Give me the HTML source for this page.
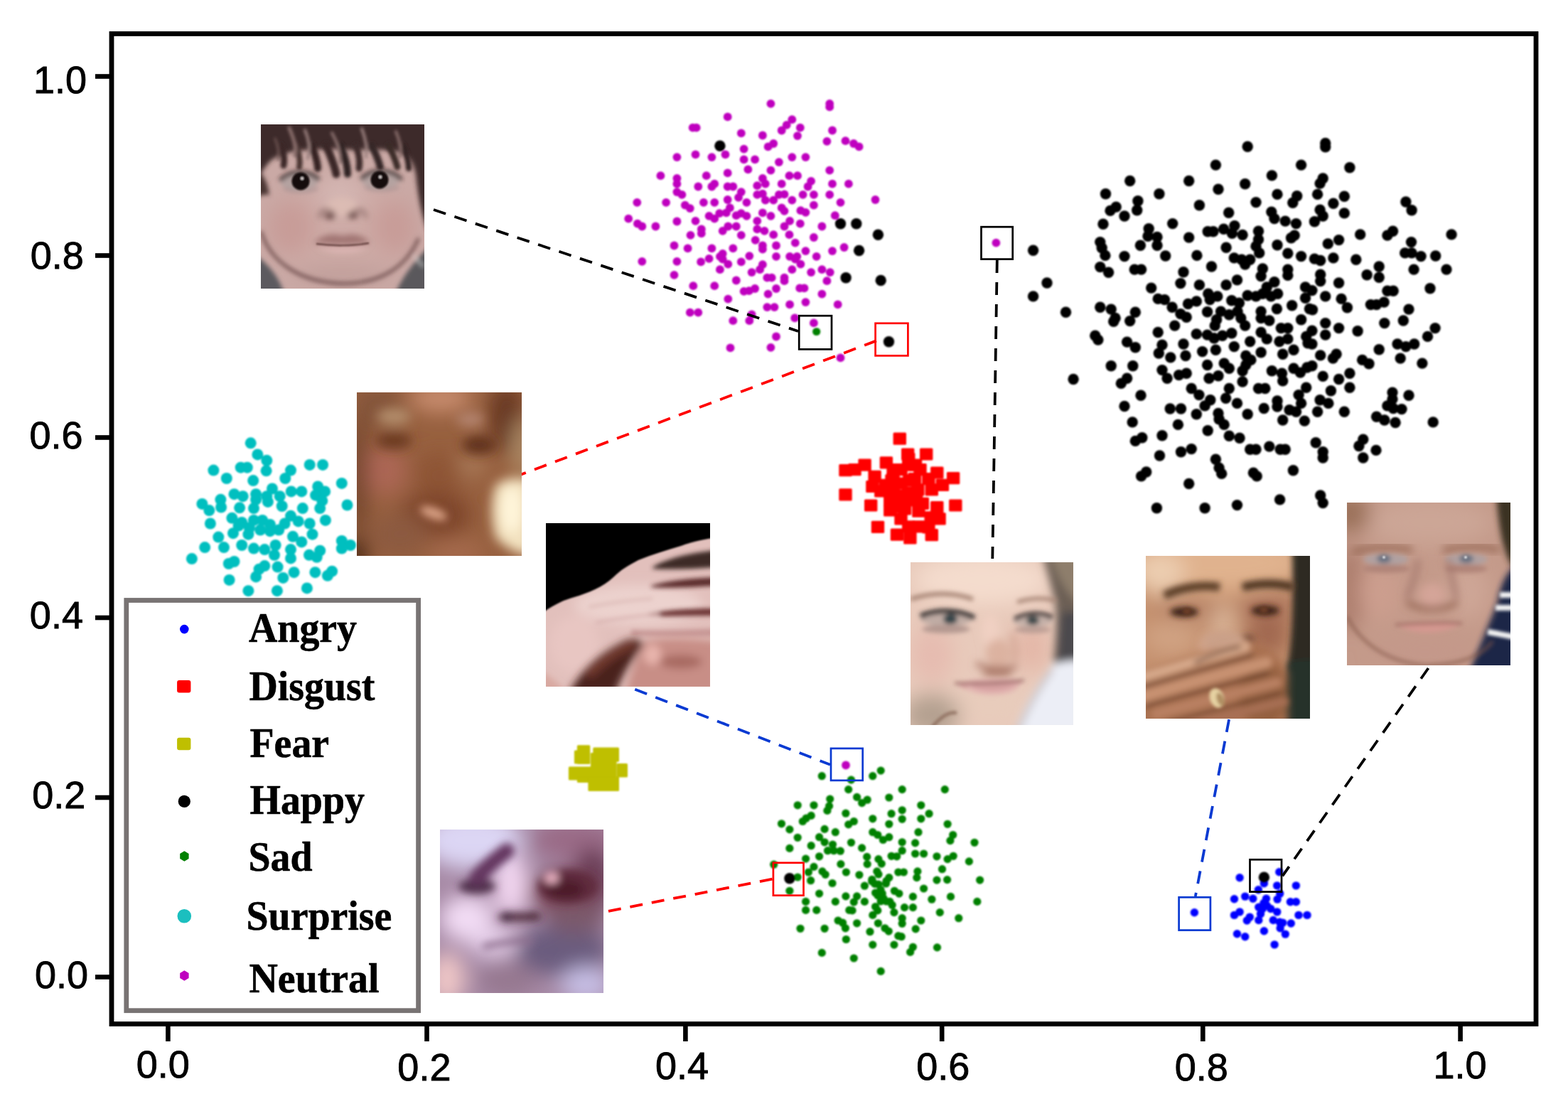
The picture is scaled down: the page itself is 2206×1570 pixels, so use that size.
<!DOCTYPE html>
<html><head><meta charset="utf-8"><title>t-SNE facial expression clusters</title>
<style>
html,body{margin:0;padding:0;background:#fff;width:2206px;height:1570px;overflow:hidden}
svg{display:block}
.tk{font-family:"Liberation Sans",Arial,sans-serif;font-size:54px;fill:#000;stroke:#000;stroke-width:0.9px}
.lg{font-family:"Liberation Serif","Times New Roman",serif;font-weight:bold;font-size:59px;fill:#000;stroke:#000;stroke-width:0.6px}
</style></head><body>
<svg width="2206" height="1570" viewBox="0 0 2206 1570">
<defs>
<filter id="soft" x="-5%" y="-5%" width="110%" height="110%"><feGaussianBlur stdDeviation="1.0"/></filter>
<filter id="b1" x="-60%" y="-60%" width="220%" height="220%"><feGaussianBlur stdDeviation="1"/></filter><filter id="b2" x="-60%" y="-60%" width="220%" height="220%"><feGaussianBlur stdDeviation="2"/></filter><filter id="b3" x="-60%" y="-60%" width="220%" height="220%"><feGaussianBlur stdDeviation="3"/></filter><filter id="b4" x="-60%" y="-60%" width="220%" height="220%"><feGaussianBlur stdDeviation="4"/></filter><filter id="b6" x="-60%" y="-60%" width="220%" height="220%"><feGaussianBlur stdDeviation="6"/></filter><filter id="b8" x="-60%" y="-60%" width="220%" height="220%"><feGaussianBlur stdDeviation="8"/></filter><filter id="b14" x="-60%" y="-60%" width="220%" height="220%"><feGaussianBlur stdDeviation="14"/></filter>
<clipPath id="c1"><rect width="230" height="231"/></clipPath>
<clipPath id="c2"><rect width="232" height="230"/></clipPath>
<clipPath id="c3"><rect width="231" height="230"/></clipPath>
<clipPath id="c4"><rect width="229" height="229"/></clipPath>
<clipPath id="c5"><rect width="231" height="229"/></clipPath>
<clipPath id="c6"><rect width="230" height="229"/></clipPath>
<clipPath id="c7"><rect width="230" height="230"/></clipPath>
</defs>
<!-- AXES -->
<g id="axes">
<rect x="157" y="47.5" width="2004" height="1393" fill="none" stroke="#000" stroke-width="6.8"/>
<g stroke="#000" stroke-width="6.6">
<line x1="134" y1="107.5" x2="157" y2="107.5"/>
<line x1="134" y1="359.5" x2="157" y2="359.5"/>
<line x1="134" y1="615.5" x2="157" y2="615.5"/>
<line x1="134" y1="869" x2="157" y2="869"/>
<line x1="134" y1="1122" x2="157" y2="1122"/>
<line x1="134" y1="1374.5" x2="157" y2="1374.5"/>
<line x1="236.4" y1="1440" x2="236.4" y2="1465"/>
<line x1="600.5" y1="1440" x2="600.5" y2="1465"/>
<line x1="964.4" y1="1440" x2="964.4" y2="1465"/>
<line x1="1325.2" y1="1440" x2="1325.2" y2="1465"/>
<line x1="1692.3" y1="1440" x2="1692.3" y2="1465"/>
<line x1="2054.6" y1="1440" x2="2054.6" y2="1465"/>
</g>
<g class="tk" text-anchor="middle">
<text x="84.5" y="130.5">1.0</text>
<text x="80.3" y="377.5">0.8</text>
<text x="79" y="631">0.6</text>
<text x="79.4" y="884">0.4</text>
<text x="82.8" y="1136.5">0.2</text>
<text x="86.6" y="1389.5">0.0</text>
<text x="229.3" y="1515.5">0.0</text>
<text x="596.9" y="1519.5">0.2</text>
<text x="959.5" y="1517.5">0.4</text>
<text x="1326.8" y="1518.5">0.6</text>
<text x="1690.3" y="1519.5">0.8</text>
<text x="2054" y="1517">1.0</text>
</g>
</g>
<!-- CLUSTERS -->
<g id="clusters" filter="url(#soft)">
<g fill="#00bfbf"><circle cx="352.7" cy="623.3" r="8.0"/><circle cx="362.4" cy="639.4" r="8.0"/><circle cx="375.3" cy="647.8" r="8.0"/><circle cx="374.6" cy="662.3" r="8.0"/><circle cx="300.4" cy="661.6" r="8.0"/><circle cx="318.8" cy="673.0" r="8.0"/><circle cx="338.7" cy="657.7" r="8.0"/><circle cx="347.8" cy="657.7" r="8.0"/><circle cx="356.2" cy="676.1" r="8.0"/><circle cx="409.0" cy="661.6" r="8.0"/><circle cx="401.3" cy="673.0" r="8.0"/><circle cx="435.7" cy="653.9" r="8.0"/><circle cx="454.1" cy="653.9" r="8.0"/><circle cx="480.8" cy="679.9" r="8.0"/><circle cx="447.2" cy="684.5" r="8.0"/><circle cx="457.1" cy="691.4" r="8.0"/><circle cx="444.1" cy="696.7" r="8.0"/><circle cx="453.3" cy="704.4" r="8.0"/><circle cx="450.2" cy="715.1" r="8.0"/><circle cx="488.5" cy="710.5" r="8.0"/><circle cx="457.9" cy="731.9" r="8.0"/><circle cx="383.0" cy="687.5" r="8.0"/><circle cx="409.7" cy="691.4" r="8.0"/><circle cx="424.3" cy="691.4" r="8.0"/><circle cx="329.5" cy="695.2" r="8.0"/><circle cx="341.7" cy="698.2" r="8.0"/><circle cx="360.1" cy="695.2" r="8.0"/><circle cx="375.3" cy="698.2" r="8.0"/><circle cx="393.7" cy="698.2" r="8.0"/><circle cx="376.9" cy="705.9" r="8.0"/><circle cx="396.7" cy="712.0" r="8.0"/><circle cx="310.4" cy="702.8" r="8.0"/><circle cx="311.1" cy="713.5" r="8.0"/><circle cx="284.4" cy="708.9" r="8.0"/><circle cx="294.3" cy="718.1" r="8.0"/><circle cx="337.1" cy="714.3" r="8.0"/><circle cx="357.0" cy="715.1" r="8.0"/><circle cx="425.8" cy="715.1" r="8.0"/><circle cx="409.0" cy="725.8" r="8.0"/><circle cx="400.6" cy="736.5" r="8.0"/><circle cx="419.7" cy="733.4" r="8.0"/><circle cx="435.7" cy="736.5" r="8.0"/><circle cx="326.4" cy="728.8" r="8.0"/><circle cx="340.2" cy="734.9" r="8.0"/><circle cx="357.0" cy="731.9" r="8.0"/><circle cx="369.2" cy="731.9" r="8.0"/><circle cx="379.9" cy="738.0" r="8.0"/><circle cx="295.9" cy="736.5" r="8.0"/><circle cx="328.0" cy="750.2" r="8.0"/><circle cx="349.4" cy="751.7" r="8.0"/><circle cx="366.2" cy="745.6" r="8.0"/><circle cx="379.9" cy="747.2" r="8.0"/><circle cx="392.2" cy="745.6" r="8.0"/><circle cx="412.0" cy="754.8" r="8.0"/><circle cx="439.5" cy="751.7" r="8.0"/><circle cx="307.3" cy="755.6" r="8.0"/><circle cx="340.2" cy="767.0" r="8.0"/><circle cx="357.0" cy="771.6" r="8.0"/><circle cx="372.3" cy="773.1" r="8.0"/><circle cx="387.6" cy="767.0" r="8.0"/><circle cx="424.3" cy="762.4" r="8.0"/><circle cx="480.8" cy="760.9" r="8.0"/><circle cx="493.0" cy="767.0" r="8.0"/><circle cx="480.8" cy="771.6" r="8.0"/><circle cx="288.2" cy="770.1" r="8.0"/><circle cx="315.0" cy="770.1" r="8.0"/><circle cx="386.0" cy="780.8" r="8.0"/><circle cx="409.0" cy="773.1" r="8.0"/><circle cx="409.0" cy="785.4" r="8.0"/><circle cx="435.0" cy="780.8" r="8.0"/><circle cx="450.2" cy="774.7" r="8.0"/><circle cx="445.7" cy="783.8" r="8.0"/><circle cx="269.9" cy="786.1" r="8.0"/><circle cx="321.8" cy="793.0" r="8.0"/><circle cx="329.5" cy="790.0" r="8.0"/><circle cx="364.6" cy="800.7" r="8.0"/><circle cx="372.3" cy="796.1" r="8.0"/><circle cx="390.6" cy="797.6" r="8.0"/><circle cx="360.1" cy="811.4" r="8.0"/><circle cx="413.6" cy="805.2" r="8.0"/><circle cx="398.3" cy="812.9" r="8.0"/><circle cx="443.4" cy="805.2" r="8.0"/><circle cx="460.9" cy="809.8" r="8.0"/><circle cx="467.1" cy="803.7" r="8.0"/><circle cx="322.6" cy="815.9" r="8.0"/><circle cx="349.4" cy="831.2" r="8.0"/><circle cx="389.9" cy="831.2" r="8.0"/><circle cx="431.9" cy="827.4" r="8.0"/><circle cx="360.1" cy="702.8" r="8.0"/><circle cx="350.9" cy="742.6" r="8.0"/><circle cx="335.6" cy="739.5" r="8.0"/></g>
<g fill="#ff0000"><rect x="1256.6" y="608.5" width="18.4" height="17.2" rx="1.5"/><rect x="1268.0" y="630.4" width="18.4" height="17.2" rx="1.5"/><rect x="1294.0" y="630.4" width="18.4" height="17.2" rx="1.5"/><rect x="1237.7" y="642.3" width="18.4" height="17.2" rx="1.5"/><rect x="1207.4" y="645.5" width="18.4" height="17.2" rx="1.5"/><rect x="1180.3" y="653.1" width="18.4" height="17.2" rx="1.5"/><rect x="1193.3" y="652.0" width="18.4" height="17.2" rx="1.5"/><rect x="1309.1" y="656.4" width="18.4" height="17.2" rx="1.5"/><rect x="1331.9" y="664.0" width="18.4" height="17.2" rx="1.5"/><rect x="1278.8" y="645.5" width="18.4" height="17.2" rx="1.5"/><rect x="1221.4" y="661.8" width="18.4" height="17.2" rx="1.5"/><rect x="1247.4" y="652.0" width="18.4" height="17.2" rx="1.5"/><rect x="1258.3" y="652.0" width="18.4" height="17.2" rx="1.5"/><rect x="1297.2" y="665.0" width="18.4" height="17.2" rx="1.5"/><rect x="1218.2" y="675.9" width="18.4" height="17.2" rx="1.5"/><rect x="1236.6" y="673.7" width="18.4" height="17.2" rx="1.5"/><rect x="1258.3" y="671.5" width="18.4" height="17.2" rx="1.5"/><rect x="1277.7" y="665.0" width="18.4" height="17.2" rx="1.5"/><rect x="1282.1" y="680.2" width="18.4" height="17.2" rx="1.5"/><rect x="1301.6" y="680.2" width="18.4" height="17.2" rx="1.5"/><rect x="1316.7" y="673.7" width="18.4" height="17.2" rx="1.5"/><rect x="1180.3" y="687.2" width="18.4" height="17.2" rx="1.5"/><rect x="1216.0" y="702.4" width="18.4" height="17.2" rx="1.5"/><rect x="1243.1" y="695.4" width="18.4" height="17.2" rx="1.5"/><rect x="1258.3" y="688.9" width="18.4" height="17.2" rx="1.5"/><rect x="1279.9" y="694.3" width="18.4" height="17.2" rx="1.5"/><rect x="1243.1" y="709.4" width="18.4" height="17.2" rx="1.5"/><rect x="1263.7" y="707.3" width="18.4" height="17.2" rx="1.5"/><rect x="1309.1" y="705.1" width="18.4" height="17.2" rx="1.5"/><rect x="1335.1" y="702.4" width="18.4" height="17.2" rx="1.5"/><rect x="1258.3" y="721.3" width="18.4" height="17.2" rx="1.5"/><rect x="1283.2" y="710.5" width="18.4" height="17.2" rx="1.5"/><rect x="1300.5" y="719.2" width="18.4" height="17.2" rx="1.5"/><rect x="1312.4" y="721.3" width="18.4" height="17.2" rx="1.5"/><rect x="1283.2" y="732.2" width="18.4" height="17.2" rx="1.5"/><rect x="1225.8" y="732.7" width="18.4" height="17.2" rx="1.5"/><rect x="1252.8" y="743.5" width="18.4" height="17.2" rx="1.5"/><rect x="1271.2" y="748.4" width="18.4" height="17.2" rx="1.5"/><rect x="1301.6" y="744.1" width="18.4" height="17.2" rx="1.5"/><rect x="1297.2" y="733.3" width="18.4" height="17.2" rx="1.5"/><rect x="1269.1" y="732.2" width="18.4" height="17.2" rx="1.5"/><rect x="1230.1" y="682.4" width="18.4" height="17.2" rx="1.5"/><rect x="1247.4" y="683.4" width="18.4" height="17.2" rx="1.5"/><rect x="1269.1" y="645.5" width="18.4" height="17.2" rx="1.5"/><rect x="1269.1" y="636.9" width="18.4" height="17.2" rx="1.5"/><rect x="1247.4" y="665.0" width="18.4" height="17.2" rx="1.5"/><rect x="1285.3" y="652.0" width="18.4" height="17.2" rx="1.5"/><rect x="1270.2" y="667.2" width="18.4" height="17.2" rx="1.5"/><rect x="1269.1" y="684.5" width="18.4" height="17.2" rx="1.5"/><rect x="1260.4" y="704.0" width="18.4" height="17.2" rx="1.5"/><rect x="1269.1" y="695.4" width="18.4" height="17.2" rx="1.5"/><rect x="1245.3" y="667.2" width="18.4" height="17.2" rx="1.5"/><rect x="1288.6" y="699.7" width="18.4" height="17.2" rx="1.5"/></g>
<g fill="#bfbf00"><rect x="811.9" y="1048.2" width="18.4" height="26.9" rx="1.5"/><rect x="807.9" y="1055.6" width="17.2" height="19.0" rx="1.5"/><rect x="834.3" y="1051.6" width="36.7" height="20.1" rx="1.5"/><rect x="830.9" y="1059.1" width="36.7" height="36.1" rx="1.5"/><rect x="867.6" y="1074.0" width="15.4" height="19.5" rx="1.5"/><rect x="799.9" y="1078.6" width="36.7" height="18.9" rx="1.5"/><rect x="811.9" y="1092.3" width="19.0" height="8.7" rx="1.5"/><rect x="827.4" y="1092.3" width="43.6" height="20.7" rx="1.5"/></g>
<g fill="#bf00bf"><circle cx="1023.7" cy="164.4" r="5.9"/><circle cx="974.6" cy="179.7" r="5.9"/><circle cx="979.7" cy="179.7" r="5.9"/><circle cx="1042.8" cy="187.3" r="5.9"/><circle cx="1046.6" cy="209.6" r="5.9"/><circle cx="978.5" cy="217.3" r="5.9"/><circle cx="952.4" cy="221.1" r="5.9"/><circle cx="1001.4" cy="221.1" r="5.9"/><circle cx="1020.5" cy="217.3" r="5.9"/><circle cx="1046.6" cy="224.3" r="5.9"/><circle cx="1052.4" cy="238.3" r="5.9"/><circle cx="929.4" cy="247.2" r="5.9"/><circle cx="952.4" cy="251.0" r="5.9"/><circle cx="993.8" cy="247.2" r="5.9"/><circle cx="1023.7" cy="243.4" r="5.9"/><circle cx="952.4" cy="258.7" r="5.9"/><circle cx="982.3" cy="262.5" r="5.9"/><circle cx="1001.4" cy="262.5" r="5.9"/><circle cx="1005.2" cy="258.7" r="5.9"/><circle cx="1023.7" cy="262.5" r="5.9"/><circle cx="1031.3" cy="262.5" r="5.9"/><circle cx="952.4" cy="270.1" r="5.9"/><circle cx="959.4" cy="273.9" r="5.9"/><circle cx="1042.8" cy="270.1" r="5.9"/><circle cx="1039.0" cy="277.8" r="5.9"/><circle cx="896.3" cy="284.8" r="5.9"/><circle cx="937.1" cy="284.8" r="5.9"/><circle cx="989.9" cy="284.8" r="5.9"/><circle cx="1005.2" cy="284.8" r="5.9"/><circle cx="1023.7" cy="281.0" r="5.9"/><circle cx="1050.4" cy="284.8" r="5.9"/><circle cx="963.8" cy="288.6" r="5.9"/><circle cx="970.8" cy="293.1" r="5.9"/><circle cx="1026.9" cy="292.4" r="5.9"/><circle cx="1012.2" cy="300.1" r="5.9"/><circle cx="1021.8" cy="299.4" r="5.9"/><circle cx="997.6" cy="303.9" r="5.9"/><circle cx="1005.2" cy="307.7" r="5.9"/><circle cx="1035.8" cy="303.2" r="5.9"/><circle cx="1042.8" cy="300.1" r="5.9"/><circle cx="1050.4" cy="303.9" r="5.9"/><circle cx="884.2" cy="307.7" r="5.9"/><circle cx="896.9" cy="314.7" r="5.9"/><circle cx="903.3" cy="318.5" r="5.9"/><circle cx="922.4" cy="318.5" r="5.9"/><circle cx="952.4" cy="311.5" r="5.9"/><circle cx="978.5" cy="310.9" r="5.9"/><circle cx="986.8" cy="322.4" r="5.9"/><circle cx="1024.3" cy="318.5" r="5.9"/><circle cx="1035.8" cy="318.5" r="5.9"/><circle cx="1016.7" cy="324.9" r="5.9"/><circle cx="1084.4" cy="145.9" r="5.9"/><circle cx="1167.2" cy="145.9" r="5.9"/><circle cx="1167.2" cy="150.4" r="5.9"/><circle cx="1114.3" cy="168.2" r="5.9"/><circle cx="1106.7" cy="175.9" r="5.9"/><circle cx="1099.7" cy="183.5" r="5.9"/><circle cx="1125.8" cy="179.7" r="5.9"/><circle cx="1122.0" cy="191.1" r="5.9"/><circle cx="1072.9" cy="190.5" r="5.9"/><circle cx="1088.2" cy="202.0" r="5.9"/><circle cx="1080.6" cy="206.4" r="5.9"/><circle cx="1171.0" cy="183.5" r="5.9"/><circle cx="1163.4" cy="198.8" r="5.9"/><circle cx="1189.5" cy="198.2" r="5.9"/><circle cx="1201.0" cy="202.0" r="5.9"/><circle cx="1208.6" cy="206.4" r="5.9"/><circle cx="1114.3" cy="221.1" r="5.9"/><circle cx="1133.4" cy="221.1" r="5.9"/><circle cx="1062.1" cy="224.3" r="5.9"/><circle cx="1095.9" cy="228.1" r="5.9"/><circle cx="1084.4" cy="239.6" r="5.9"/><circle cx="1167.2" cy="239.6" r="5.9"/><circle cx="1110.5" cy="247.2" r="5.9"/><circle cx="1122.0" cy="247.2" r="5.9"/><circle cx="1072.9" cy="251.0" r="5.9"/><circle cx="1065.3" cy="261.2" r="5.9"/><circle cx="1076.8" cy="258.7" r="5.9"/><circle cx="1099.7" cy="258.7" r="5.9"/><circle cx="1141.1" cy="254.8" r="5.9"/><circle cx="1136.6" cy="262.5" r="5.9"/><circle cx="1171.0" cy="258.7" r="5.9"/><circle cx="1193.9" cy="258.7" r="5.9"/><circle cx="1065.3" cy="273.9" r="5.9"/><circle cx="1072.9" cy="272.7" r="5.9"/><circle cx="1076.8" cy="281.6" r="5.9"/><circle cx="1088.2" cy="281.6" r="5.9"/><circle cx="1095.9" cy="273.9" r="5.9"/><circle cx="1103.5" cy="273.3" r="5.9"/><circle cx="1114.3" cy="281.6" r="5.9"/><circle cx="1129.6" cy="273.9" r="5.9"/><circle cx="1144.9" cy="273.9" r="5.9"/><circle cx="1167.2" cy="273.9" r="5.9"/><circle cx="1182.5" cy="284.8" r="5.9"/><circle cx="1231.5" cy="281.0" r="5.9"/><circle cx="1144.9" cy="288.6" r="5.9"/><circle cx="1099.7" cy="292.4" r="5.9"/><circle cx="1103.5" cy="296.9" r="5.9"/><circle cx="1126.4" cy="296.2" r="5.9"/><circle cx="1133.4" cy="298.8" r="5.9"/><circle cx="1072.9" cy="299.4" r="5.9"/><circle cx="1084.4" cy="303.9" r="5.9"/><circle cx="1174.8" cy="303.2" r="5.9"/><circle cx="1065.3" cy="310.9" r="5.9"/><circle cx="1111.1" cy="310.9" r="5.9"/><circle cx="1103.5" cy="318.5" r="5.9"/><circle cx="1125.8" cy="314.7" r="5.9"/><circle cx="1156.4" cy="318.5" r="5.9"/><circle cx="1065.3" cy="322.4" r="5.9"/><circle cx="1075.5" cy="324.9" r="5.9"/><circle cx="971.5" cy="330.8" r="5.9"/><circle cx="986.8" cy="328.3" r="5.9"/><circle cx="1042.8" cy="330.8" r="5.9"/><circle cx="948.5" cy="345.5" r="5.9"/><circle cx="967.6" cy="349.3" r="5.9"/><circle cx="1001.4" cy="349.3" r="5.9"/><circle cx="1031.3" cy="349.3" r="5.9"/><circle cx="1016.7" cy="356.9" r="5.9"/><circle cx="1012.9" cy="360.8" r="5.9"/><circle cx="1016.7" cy="364.6" r="5.9"/><circle cx="997.6" cy="363.9" r="5.9"/><circle cx="986.1" cy="368.4" r="5.9"/><circle cx="1024.3" cy="371.6" r="5.9"/><circle cx="1042.8" cy="368.4" r="5.9"/><circle cx="1054.3" cy="360.1" r="5.9"/><circle cx="1012.9" cy="379.2" r="5.9"/><circle cx="903.3" cy="367.8" r="5.9"/><circle cx="952.4" cy="367.8" r="5.9"/><circle cx="948.5" cy="386.9" r="5.9"/><circle cx="1035.8" cy="394.5" r="5.9"/><circle cx="975.3" cy="402.2" r="5.9"/><circle cx="1005.2" cy="402.2" r="5.9"/><circle cx="1046.6" cy="409.8" r="5.9"/><circle cx="1024.3" cy="420.6" r="5.9"/><circle cx="970.8" cy="439.7" r="5.9"/><circle cx="982.3" cy="439.7" r="5.9"/><circle cx="1031.3" cy="451.2" r="5.9"/><circle cx="1054.3" cy="451.2" r="5.9"/><circle cx="1027.5" cy="489.4" r="5.9"/><circle cx="1088.2" cy="330.2" r="5.9"/><circle cx="1110.5" cy="330.2" r="5.9"/><circle cx="1144.9" cy="334.0" r="5.9"/><circle cx="1062.7" cy="337.8" r="5.9"/><circle cx="1072.9" cy="345.5" r="5.9"/><circle cx="1072.9" cy="350.6" r="5.9"/><circle cx="1092.0" cy="345.5" r="5.9"/><circle cx="1118.8" cy="341.7" r="5.9"/><circle cx="1133.4" cy="353.1" r="5.9"/><circle cx="1171.0" cy="353.1" r="5.9"/><circle cx="1092.0" cy="360.8" r="5.9"/><circle cx="1111.1" cy="360.8" r="5.9"/><circle cx="1121.3" cy="360.8" r="5.9"/><circle cx="1118.8" cy="364.6" r="5.9"/><circle cx="1126.4" cy="371.6" r="5.9"/><circle cx="1148.7" cy="360.8" r="5.9"/><circle cx="1072.9" cy="372.2" r="5.9"/><circle cx="1069.1" cy="379.2" r="5.9"/><circle cx="1057.6" cy="383.1" r="5.9"/><circle cx="1114.3" cy="379.2" r="5.9"/><circle cx="1141.1" cy="383.1" r="5.9"/><circle cx="1156.4" cy="379.2" r="5.9"/><circle cx="1167.8" cy="383.1" r="5.9"/><circle cx="1163.4" cy="395.2" r="5.9"/><circle cx="1079.3" cy="390.7" r="5.9"/><circle cx="1085.7" cy="390.7" r="5.9"/><circle cx="1103.5" cy="390.7" r="5.9"/><circle cx="1103.5" cy="395.2" r="5.9"/><circle cx="1062.1" cy="406.0" r="5.9"/><circle cx="1053.8" cy="409.2" r="5.9"/><circle cx="1080.6" cy="413.6" r="5.9"/><circle cx="1092.0" cy="406.0" r="5.9"/><circle cx="1125.2" cy="405.4" r="5.9"/><circle cx="1131.5" cy="405.4" r="5.9"/><circle cx="1156.4" cy="413.6" r="5.9"/><circle cx="1133.4" cy="425.1" r="5.9"/><circle cx="1111.1" cy="428.3" r="5.9"/><circle cx="1079.3" cy="432.1" r="5.9"/><circle cx="1089.5" cy="432.1" r="5.9"/><circle cx="1178.7" cy="428.3" r="5.9"/><circle cx="1057.6" cy="442.3" r="5.9"/><circle cx="1118.2" cy="447.4" r="5.9"/><circle cx="1144.9" cy="454.4" r="5.9"/><circle cx="1092.0" cy="473.5" r="5.9"/><circle cx="1084.4" cy="488.8" r="5.9"/><circle cx="1182.5" cy="503.4" r="5.9"/><circle cx="1187.6" cy="348.0" r="5.9"/><circle cx="1401.4" cy="341.7" r="5.9"/><circle cx="1190.0" cy="1076.5" r="5.9"/></g>
<g fill="#008000"><circle cx="1156.3" cy="1091.7" r="5.6"/><circle cx="1227.8" cy="1091.7" r="5.6"/><circle cx="1239.2" cy="1084.1" r="5.6"/><circle cx="1197.5" cy="1097.1" r="5.6"/><circle cx="1193.7" cy="1110.6" r="5.6"/><circle cx="1205.6" cy="1121.4" r="5.6"/><circle cx="1212.6" cy="1129.6" r="5.6"/><circle cx="1220.2" cy="1125.2" r="5.6"/><circle cx="1167.7" cy="1124.1" r="5.6"/><circle cx="1166.6" cy="1133.9" r="5.6"/><circle cx="1163.9" cy="1140.4" r="5.6"/><circle cx="1122.2" cy="1132.8" r="5.6"/><circle cx="1145.0" cy="1132.8" r="5.6"/><circle cx="1141.2" cy="1147.4" r="5.6"/><circle cx="1134.1" cy="1151.2" r="5.6"/><circle cx="1129.3" cy="1155.5" r="5.6"/><circle cx="1189.9" cy="1144.2" r="5.6"/><circle cx="1227.8" cy="1151.8" r="5.6"/><circle cx="1201.3" cy="1155.5" r="5.6"/><circle cx="1193.7" cy="1159.9" r="5.6"/><circle cx="1099.5" cy="1158.8" r="5.6"/><circle cx="1110.9" cy="1166.9" r="5.6"/><circle cx="1122.2" cy="1178.3" r="5.6"/><circle cx="1160.1" cy="1166.4" r="5.6"/><circle cx="1175.3" cy="1170.7" r="5.6"/><circle cx="1152.6" cy="1177.7" r="5.6"/><circle cx="1160.1" cy="1184.8" r="5.6"/><circle cx="1171.5" cy="1188.0" r="5.6"/><circle cx="1164.5" cy="1196.7" r="5.6"/><circle cx="1173.1" cy="1196.7" r="5.6"/><circle cx="1182.3" cy="1197.2" r="5.6"/><circle cx="1197.5" cy="1185.3" r="5.6"/><circle cx="1212.6" cy="1192.9" r="5.6"/><circle cx="1227.8" cy="1170.7" r="5.6"/><circle cx="1234.8" cy="1174.5" r="5.6"/><circle cx="1242.4" cy="1181.5" r="5.6"/><circle cx="1110.9" cy="1193.4" r="5.6"/><circle cx="1141.2" cy="1189.7" r="5.6"/><circle cx="1152.6" cy="1204.8" r="5.6"/><circle cx="1133.6" cy="1208.1" r="5.6"/><circle cx="1088.7" cy="1216.2" r="5.6"/><circle cx="1219.7" cy="1205.4" r="5.6"/><circle cx="1220.2" cy="1215.6" r="5.6"/><circle cx="1235.9" cy="1208.6" r="5.6"/><circle cx="1240.3" cy="1215.1" r="5.6"/><circle cx="1182.9" cy="1215.6" r="5.6"/><circle cx="1145.0" cy="1219.4" r="5.6"/><circle cx="1137.4" cy="1227.0" r="5.6"/><circle cx="1156.9" cy="1225.9" r="5.6"/><circle cx="1161.2" cy="1230.3" r="5.6"/><circle cx="1190.4" cy="1227.0" r="5.6"/><circle cx="1208.9" cy="1230.8" r="5.6"/><circle cx="1233.8" cy="1225.9" r="5.6"/><circle cx="1122.2" cy="1234.0" r="5.6"/><circle cx="1269.2" cy="1110.6" r="5.6"/><circle cx="1329.3" cy="1110.6" r="5.6"/><circle cx="1250.8" cy="1122.0" r="5.6"/><circle cx="1295.8" cy="1132.8" r="5.6"/><circle cx="1269.2" cy="1139.8" r="5.6"/><circle cx="1254.1" cy="1144.7" r="5.6"/><circle cx="1269.2" cy="1152.3" r="5.6"/><circle cx="1307.1" cy="1144.7" r="5.6"/><circle cx="1295.8" cy="1151.8" r="5.6"/><circle cx="1250.8" cy="1159.3" r="5.6"/><circle cx="1333.1" cy="1159.3" r="5.6"/><circle cx="1292.0" cy="1170.7" r="5.6"/><circle cx="1340.7" cy="1174.5" r="5.6"/><circle cx="1336.9" cy="1182.6" r="5.6"/><circle cx="1371.0" cy="1185.3" r="5.6"/><circle cx="1250.8" cy="1177.7" r="5.6"/><circle cx="1269.2" cy="1184.8" r="5.6"/><circle cx="1287.6" cy="1185.9" r="5.6"/><circle cx="1269.2" cy="1196.7" r="5.6"/><circle cx="1254.1" cy="1204.3" r="5.6"/><circle cx="1261.7" cy="1204.8" r="5.6"/><circle cx="1287.6" cy="1201.0" r="5.6"/><circle cx="1299.6" cy="1201.0" r="5.6"/><circle cx="1318.0" cy="1204.8" r="5.6"/><circle cx="1333.1" cy="1208.6" r="5.6"/><circle cx="1341.2" cy="1204.3" r="5.6"/><circle cx="1363.4" cy="1211.9" r="5.6"/><circle cx="1325.5" cy="1222.7" r="5.6"/><circle cx="1263.8" cy="1227.0" r="5.6"/><circle cx="1271.4" cy="1227.0" r="5.6"/><circle cx="1290.9" cy="1225.9" r="5.6"/><circle cx="1289.8" cy="1234.6" r="5.6"/><circle cx="1250.8" cy="1234.6" r="5.6"/><circle cx="1140.6" cy="1238.7" r="5.6"/><circle cx="1171.0" cy="1242.5" r="5.6"/><circle cx="1110.9" cy="1253.3" r="5.6"/><circle cx="1152.6" cy="1257.1" r="5.6"/><circle cx="1189.9" cy="1260.9" r="5.6"/><circle cx="1205.6" cy="1260.9" r="5.6"/><circle cx="1216.4" cy="1246.2" r="5.6"/><circle cx="1226.7" cy="1239.7" r="5.6"/><circle cx="1235.9" cy="1244.1" r="5.6"/><circle cx="1133.6" cy="1268.4" r="5.6"/><circle cx="1133.6" cy="1280.4" r="5.6"/><circle cx="1148.8" cy="1280.4" r="5.6"/><circle cx="1175.3" cy="1268.4" r="5.6"/><circle cx="1201.3" cy="1269.0" r="5.6"/><circle cx="1216.4" cy="1268.4" r="5.6"/><circle cx="1194.8" cy="1280.4" r="5.6"/><circle cx="1199.1" cy="1280.9" r="5.6"/><circle cx="1231.6" cy="1256.0" r="5.6"/><circle cx="1241.3" cy="1257.1" r="5.6"/><circle cx="1239.2" cy="1267.9" r="5.6"/><circle cx="1231.6" cy="1275.5" r="5.6"/><circle cx="1234.8" cy="1280.9" r="5.6"/><circle cx="1227.8" cy="1287.4" r="5.6"/><circle cx="1235.4" cy="1298.8" r="5.6"/><circle cx="1179.1" cy="1295.0" r="5.6"/><circle cx="1185.6" cy="1298.2" r="5.6"/><circle cx="1189.4" cy="1305.8" r="5.6"/><circle cx="1205.6" cy="1298.8" r="5.6"/><circle cx="1224.0" cy="1310.7" r="5.6"/><circle cx="1126.0" cy="1306.3" r="5.6"/><circle cx="1160.1" cy="1306.3" r="5.6"/><circle cx="1190.4" cy="1321.5" r="5.6"/><circle cx="1227.8" cy="1329.1" r="5.6"/><circle cx="1156.3" cy="1340.4" r="5.6"/><circle cx="1201.3" cy="1348.0" r="5.6"/><circle cx="1239.2" cy="1366.4" r="5.6"/><circle cx="1318.0" cy="1238.1" r="5.6"/><circle cx="1332.6" cy="1237.6" r="5.6"/><circle cx="1378.6" cy="1238.1" r="5.6"/><circle cx="1246.5" cy="1243.0" r="5.6"/><circle cx="1258.4" cy="1253.3" r="5.6"/><circle cx="1264.9" cy="1257.1" r="5.6"/><circle cx="1299.6" cy="1250.0" r="5.6"/><circle cx="1284.4" cy="1261.4" r="5.6"/><circle cx="1310.9" cy="1265.2" r="5.6"/><circle cx="1337.5" cy="1261.4" r="5.6"/><circle cx="1374.8" cy="1268.4" r="5.6"/><circle cx="1251.9" cy="1268.4" r="5.6"/><circle cx="1255.2" cy="1273.3" r="5.6"/><circle cx="1272.5" cy="1276.6" r="5.6"/><circle cx="1284.4" cy="1276.6" r="5.6"/><circle cx="1257.9" cy="1283.6" r="5.6"/><circle cx="1322.3" cy="1283.6" r="5.6"/><circle cx="1348.8" cy="1291.7" r="5.6"/><circle cx="1269.2" cy="1291.7" r="5.6"/><circle cx="1269.2" cy="1299.3" r="5.6"/><circle cx="1295.8" cy="1295.0" r="5.6"/><circle cx="1288.2" cy="1306.9" r="5.6"/><circle cx="1245.0" cy="1305.8" r="5.6"/><circle cx="1250.3" cy="1310.1" r="5.6"/><circle cx="1263.8" cy="1316.6" r="5.6"/><circle cx="1268.2" cy="1317.7" r="5.6"/><circle cx="1257.9" cy="1329.1" r="5.6"/><circle cx="1284.4" cy="1332.3" r="5.6"/><circle cx="1280.6" cy="1339.4" r="5.6"/><circle cx="1318.5" cy="1332.9" r="5.6"/><circle cx="1148.7" cy="466.5" r="5.6"/><circle cx="1230.8" cy="1243.4" r="5.6"/><circle cx="1239.0" cy="1251.6" r="5.6"/><circle cx="1243.0" cy="1263.8" r="5.6"/><circle cx="1235.0" cy="1259.8" r="5.6"/><circle cx="1247.0" cy="1268.0" r="5.6"/><circle cx="1226.8" cy="1237.3" r="5.6"/><circle cx="1247.0" cy="1239.4" r="5.6"/><circle cx="1236.0" cy="1230.0" r="5.6"/></g>
<g fill="#0000ff"><circle cx="1744.1" cy="1234.8" r="5.7"/><circle cx="1799.8" cy="1226.8" r="5.7"/><circle cx="1778.4" cy="1242.8" r="5.7"/><circle cx="1796.7" cy="1245.9" r="5.7"/><circle cx="1823.4" cy="1245.9" r="5.7"/><circle cx="1770.4" cy="1251.7" r="5.7"/><circle cx="1751.7" cy="1261.1" r="5.7"/><circle cx="1736.5" cy="1264.7" r="5.7"/><circle cx="1762.8" cy="1264.2" r="5.7"/><circle cx="1800.7" cy="1257.1" r="5.7"/><circle cx="1797.1" cy="1265.1" r="5.7"/><circle cx="1781.5" cy="1264.2" r="5.7"/><circle cx="1815.4" cy="1268.7" r="5.7"/><circle cx="1823.4" cy="1268.7" r="5.7"/><circle cx="1778.0" cy="1270.4" r="5.7"/><circle cx="1770.8" cy="1276.2" r="5.7"/><circle cx="1782.4" cy="1274.0" r="5.7"/><circle cx="1787.8" cy="1278.5" r="5.7"/><circle cx="1796.7" cy="1282.9" r="5.7"/><circle cx="1744.1" cy="1282.9" r="5.7"/><circle cx="1736.5" cy="1287.4" r="5.7"/><circle cx="1773.5" cy="1285.6" r="5.7"/><circle cx="1758.3" cy="1290.1" r="5.7"/><circle cx="1754.3" cy="1295.0" r="5.7"/><circle cx="1770.8" cy="1294.5" r="5.7"/><circle cx="1791.3" cy="1294.5" r="5.7"/><circle cx="1800.3" cy="1297.2" r="5.7"/><circle cx="1816.3" cy="1299.0" r="5.7"/><circle cx="1827.0" cy="1287.4" r="5.7"/><circle cx="1839.0" cy="1287.4" r="5.7"/><circle cx="1801.1" cy="1305.7" r="5.7"/><circle cx="1808.3" cy="1314.1" r="5.7"/><circle cx="1778.4" cy="1309.7" r="5.7"/><circle cx="1740.5" cy="1313.7" r="5.7"/><circle cx="1751.7" cy="1317.7" r="5.7"/><circle cx="1793.1" cy="1328.9" r="5.7"/><circle cx="1776.2" cy="1278.5" r="5.7"/><circle cx="1804.7" cy="1298.1" r="5.7"/><circle cx="1680.4" cy="1283.8" r="5.7"/></g>
<g fill="#000"><circle cx="1589.7" cy="254.5" r="7.7"/><circle cx="1555.5" cy="272.8" r="7.7"/><circle cx="1630.9" cy="272.8" r="7.7"/><circle cx="1600.9" cy="282.8" r="7.7"/><circle cx="1599.7" cy="295.8" r="7.7"/><circle cx="1562.0" cy="296.4" r="7.7"/><circle cx="1570.2" cy="291.1" r="7.7"/><circle cx="1582.0" cy="304.0" r="7.7"/><circle cx="1552.0" cy="315.2" r="7.7"/><circle cx="1616.2" cy="321.7" r="7.7"/><circle cx="1615.0" cy="332.3" r="7.7"/><circle cx="1628.0" cy="333.5" r="7.7"/><circle cx="1628.0" cy="345.3" r="7.7"/><circle cx="1604.4" cy="345.3" r="7.7"/><circle cx="1547.8" cy="340.6" r="7.7"/><circle cx="1550.2" cy="348.8" r="7.7"/><circle cx="1554.9" cy="359.4" r="7.7"/><circle cx="1582.0" cy="360.6" r="7.7"/><circle cx="1453.6" cy="352.3" r="7.7"/><circle cx="1755.2" cy="206.2" r="7.7"/><circle cx="1710.4" cy="232.1" r="7.7"/><circle cx="1830.6" cy="232.1" r="7.7"/><circle cx="1672.7" cy="254.5" r="7.7"/><circle cx="1789.4" cy="246.9" r="7.7"/><circle cx="1751.7" cy="258.7" r="7.7"/><circle cx="1714.0" cy="266.3" r="7.7"/><circle cx="1797.0" cy="273.4" r="7.7"/><circle cx="1824.7" cy="275.7" r="7.7"/><circle cx="1818.8" cy="285.2" r="7.7"/><circle cx="1767.0" cy="284.6" r="7.7"/><circle cx="1687.4" cy="288.7" r="7.7"/><circle cx="1728.7" cy="299.3" r="7.7"/><circle cx="1788.8" cy="298.1" r="7.7"/><circle cx="1792.9" cy="307.6" r="7.7"/><circle cx="1808.2" cy="311.1" r="7.7"/><circle cx="1823.5" cy="314.6" r="7.7"/><circle cx="1649.7" cy="314.6" r="7.7"/><circle cx="1672.7" cy="334.1" r="7.7"/><circle cx="1699.2" cy="325.8" r="7.7"/><circle cx="1706.9" cy="325.8" r="7.7"/><circle cx="1721.6" cy="322.3" r="7.7"/><circle cx="1736.9" cy="317.6" r="7.7"/><circle cx="1733.4" cy="328.2" r="7.7"/><circle cx="1748.1" cy="330.5" r="7.7"/><circle cx="1770.5" cy="325.2" r="7.7"/><circle cx="1770.5" cy="337.0" r="7.7"/><circle cx="1767.0" cy="346.4" r="7.7"/><circle cx="1771.7" cy="355.9" r="7.7"/><circle cx="1821.2" cy="331.1" r="7.7"/><circle cx="1816.5" cy="334.7" r="7.7"/><circle cx="1797.0" cy="344.7" r="7.7"/><circle cx="1725.1" cy="348.2" r="7.7"/><circle cx="1811.8" cy="356.5" r="7.7"/><circle cx="1830.6" cy="360.6" r="7.7"/><circle cx="1683.9" cy="359.4" r="7.7"/><circle cx="1639.7" cy="360.0" r="7.7"/><circle cx="1736.3" cy="362.9" r="7.7"/><circle cx="1746.9" cy="365.3" r="7.7"/><circle cx="1758.7" cy="365.3" r="7.7"/><circle cx="1864.7" cy="201.5" r="7.7"/><circle cx="1864.7" cy="206.8" r="7.7"/><circle cx="1898.9" cy="235.7" r="7.7"/><circle cx="1861.2" cy="251.0" r="7.7"/><circle cx="1857.1" cy="258.1" r="7.7"/><circle cx="1853.6" cy="273.4" r="7.7"/><circle cx="1891.3" cy="276.3" r="7.7"/><circle cx="1875.9" cy="286.3" r="7.7"/><circle cx="1857.1" cy="295.2" r="7.7"/><circle cx="1861.2" cy="304.0" r="7.7"/><circle cx="1849.4" cy="311.7" r="7.7"/><circle cx="1891.3" cy="299.9" r="7.7"/><circle cx="1977.9" cy="284.0" r="7.7"/><circle cx="1986.1" cy="295.8" r="7.7"/><circle cx="1913.7" cy="329.9" r="7.7"/><circle cx="1951.9" cy="331.1" r="7.7"/><circle cx="1959.6" cy="325.2" r="7.7"/><circle cx="2042.1" cy="329.9" r="7.7"/><circle cx="1868.3" cy="342.9" r="7.7"/><circle cx="1883.6" cy="337.6" r="7.7"/><circle cx="1985.5" cy="340.6" r="7.7"/><circle cx="1976.7" cy="355.9" r="7.7"/><circle cx="1986.1" cy="355.9" r="7.7"/><circle cx="1999.1" cy="360.6" r="7.7"/><circle cx="2019.7" cy="360.0" r="7.7"/><circle cx="1849.4" cy="364.1" r="7.7"/><circle cx="1857.7" cy="366.5" r="7.7"/><circle cx="1875.9" cy="362.9" r="7.7"/><circle cx="1907.8" cy="365.3" r="7.7"/><circle cx="1547.8" cy="375.6" r="7.7"/><circle cx="1559.6" cy="383.3" r="7.7"/><circle cx="1596.2" cy="379.1" r="7.7"/><circle cx="1605.6" cy="379.1" r="7.7"/><circle cx="1473.0" cy="398.0" r="7.7"/><circle cx="1453.6" cy="416.9" r="7.7"/><circle cx="1619.7" cy="405.1" r="7.7"/><circle cx="1629.2" cy="420.4" r="7.7"/><circle cx="1499.5" cy="439.2" r="7.7"/><circle cx="1547.8" cy="432.2" r="7.7"/><circle cx="1563.2" cy="435.1" r="7.7"/><circle cx="1569.1" cy="447.5" r="7.7"/><circle cx="1566.7" cy="452.2" r="7.7"/><circle cx="1597.3" cy="439.2" r="7.7"/><circle cx="1589.7" cy="451.6" r="7.7"/><circle cx="1540.8" cy="472.2" r="7.7"/><circle cx="1544.9" cy="478.1" r="7.7"/><circle cx="1585.6" cy="481.1" r="7.7"/><circle cx="1597.3" cy="488.7" r="7.7"/><circle cx="1629.2" cy="467.5" r="7.7"/><circle cx="1635.0" cy="485.2" r="7.7"/><circle cx="1630.3" cy="497.0" r="7.7"/><circle cx="1563.2" cy="514.7" r="7.7"/><circle cx="1593.8" cy="514.7" r="7.7"/><circle cx="1510.1" cy="533.5" r="7.7"/><circle cx="1577.3" cy="539.4" r="7.7"/><circle cx="1585.6" cy="532.3" r="7.7"/><circle cx="1635.0" cy="520.6" r="7.7"/><circle cx="1704.5" cy="375.0" r="7.7"/><circle cx="1751.7" cy="372.1" r="7.7"/><circle cx="1776.4" cy="378.0" r="7.7"/><circle cx="1774.1" cy="388.6" r="7.7"/><circle cx="1811.8" cy="379.1" r="7.7"/><circle cx="1811.8" cy="387.4" r="7.7"/><circle cx="1665.0" cy="382.7" r="7.7"/><circle cx="1660.9" cy="398.6" r="7.7"/><circle cx="1687.4" cy="400.9" r="7.7"/><circle cx="1725.1" cy="400.9" r="7.7"/><circle cx="1740.5" cy="393.9" r="7.7"/><circle cx="1792.9" cy="396.8" r="7.7"/><circle cx="1782.3" cy="403.9" r="7.7"/><circle cx="1836.5" cy="403.9" r="7.7"/><circle cx="1836.5" cy="419.2" r="7.7"/><circle cx="1699.8" cy="413.3" r="7.7"/><circle cx="1712.8" cy="416.9" r="7.7"/><circle cx="1702.2" cy="421.6" r="7.7"/><circle cx="1755.2" cy="415.7" r="7.7"/><circle cx="1767.0" cy="416.9" r="7.7"/><circle cx="1776.4" cy="413.3" r="7.7"/><circle cx="1788.2" cy="416.9" r="7.7"/><circle cx="1797.6" cy="413.3" r="7.7"/><circle cx="1732.8" cy="422.7" r="7.7"/><circle cx="1743.4" cy="426.3" r="7.7"/><circle cx="1671.5" cy="427.5" r="7.7"/><circle cx="1683.3" cy="423.9" r="7.7"/><circle cx="1638.5" cy="421.6" r="7.7"/><circle cx="1649.1" cy="432.2" r="7.7"/><circle cx="1660.9" cy="441.6" r="7.7"/><circle cx="1669.2" cy="446.3" r="7.7"/><circle cx="1652.7" cy="458.1" r="7.7"/><circle cx="1698.6" cy="438.7" r="7.7"/><circle cx="1717.5" cy="438.1" r="7.7"/><circle cx="1729.3" cy="442.8" r="7.7"/><circle cx="1741.1" cy="438.1" r="7.7"/><circle cx="1745.8" cy="447.5" r="7.7"/><circle cx="1751.7" cy="458.1" r="7.7"/><circle cx="1711.6" cy="449.8" r="7.7"/><circle cx="1709.2" cy="458.1" r="7.7"/><circle cx="1774.1" cy="438.1" r="7.7"/><circle cx="1774.1" cy="447.5" r="7.7"/><circle cx="1785.8" cy="451.0" r="7.7"/><circle cx="1796.4" cy="434.5" r="7.7"/><circle cx="1817.7" cy="429.8" r="7.7"/><circle cx="1830.6" cy="449.8" r="7.7"/><circle cx="1842.4" cy="434.5" r="7.7"/><circle cx="1683.3" cy="469.9" r="7.7"/><circle cx="1698.6" cy="471.1" r="7.7"/><circle cx="1708.1" cy="475.8" r="7.7"/><circle cx="1719.8" cy="472.2" r="7.7"/><circle cx="1732.8" cy="468.7" r="7.7"/><circle cx="1758.7" cy="480.5" r="7.7"/><circle cx="1774.1" cy="467.5" r="7.7"/><circle cx="1782.3" cy="476.9" r="7.7"/><circle cx="1802.3" cy="461.6" r="7.7"/><circle cx="1811.8" cy="461.6" r="7.7"/><circle cx="1800.0" cy="480.5" r="7.7"/><circle cx="1811.8" cy="476.9" r="7.7"/><circle cx="1837.7" cy="473.4" r="7.7"/><circle cx="1840.0" cy="482.8" r="7.7"/><circle cx="1665.0" cy="484.0" r="7.7"/><circle cx="1668.0" cy="500.5" r="7.7"/><circle cx="1691.6" cy="494.6" r="7.7"/><circle cx="1710.4" cy="492.3" r="7.7"/><circle cx="1736.3" cy="487.6" r="7.7"/><circle cx="1752.8" cy="500.5" r="7.7"/><circle cx="1759.9" cy="506.4" r="7.7"/><circle cx="1774.1" cy="495.8" r="7.7"/><circle cx="1804.7" cy="498.2" r="7.7"/><circle cx="1820.0" cy="492.3" r="7.7"/><circle cx="1646.8" cy="502.9" r="7.7"/><circle cx="1698.6" cy="513.5" r="7.7"/><circle cx="1722.2" cy="511.1" r="7.7"/><circle cx="1729.3" cy="518.2" r="7.7"/><circle cx="1752.8" cy="513.5" r="7.7"/><circle cx="1748.1" cy="521.7" r="7.7"/><circle cx="1789.4" cy="521.7" r="7.7"/><circle cx="1803.5" cy="525.3" r="7.7"/><circle cx="1804.7" cy="535.9" r="7.7"/><circle cx="1820.0" cy="518.2" r="7.7"/><circle cx="1829.4" cy="524.1" r="7.7"/><circle cx="1838.9" cy="517.0" r="7.7"/><circle cx="1642.1" cy="532.3" r="7.7"/><circle cx="1658.6" cy="527.6" r="7.7"/><circle cx="1669.2" cy="525.3" r="7.7"/><circle cx="1701.0" cy="532.3" r="7.7"/><circle cx="1714.0" cy="528.8" r="7.7"/><circle cx="1748.1" cy="537.0" r="7.7"/><circle cx="1676.2" cy="546.5" r="7.7"/><circle cx="1729.3" cy="546.5" r="7.7"/><circle cx="1770.5" cy="546.5" r="7.7"/><circle cx="1779.9" cy="546.5" r="7.7"/><circle cx="1837.7" cy="545.3" r="7.7"/><circle cx="1940.2" cy="375.0" r="7.7"/><circle cx="1923.1" cy="386.8" r="7.7"/><circle cx="1940.2" cy="390.3" r="7.7"/><circle cx="1989.1" cy="379.1" r="7.7"/><circle cx="2035.0" cy="379.1" r="7.7"/><circle cx="1857.7" cy="386.2" r="7.7"/><circle cx="1857.7" cy="395.6" r="7.7"/><circle cx="1883.6" cy="398.0" r="7.7"/><circle cx="2012.0" cy="405.7" r="7.7"/><circle cx="1951.9" cy="409.2" r="7.7"/><circle cx="1960.2" cy="409.2" r="7.7"/><circle cx="1845.9" cy="408.6" r="7.7"/><circle cx="1864.7" cy="416.9" r="7.7"/><circle cx="1887.1" cy="420.4" r="7.7"/><circle cx="1895.4" cy="432.8" r="7.7"/><circle cx="1928.4" cy="428.6" r="7.7"/><circle cx="1936.6" cy="428.6" r="7.7"/><circle cx="1947.2" cy="425.1" r="7.7"/><circle cx="1982.0" cy="435.1" r="7.7"/><circle cx="1974.3" cy="451.0" r="7.7"/><circle cx="1947.8" cy="454.6" r="7.7"/><circle cx="1846.5" cy="435.7" r="7.7"/><circle cx="1864.7" cy="454.6" r="7.7"/><circle cx="1864.7" cy="471.1" r="7.7"/><circle cx="1883.6" cy="461.6" r="7.7"/><circle cx="1910.1" cy="465.8" r="7.7"/><circle cx="1845.9" cy="465.2" r="7.7"/><circle cx="1845.9" cy="484.0" r="7.7"/><circle cx="2019.1" cy="461.6" r="7.7"/><circle cx="2008.5" cy="473.4" r="7.7"/><circle cx="1966.1" cy="484.0" r="7.7"/><circle cx="1977.9" cy="487.6" r="7.7"/><circle cx="1989.7" cy="484.0" r="7.7"/><circle cx="1940.2" cy="491.7" r="7.7"/><circle cx="1970.2" cy="504.1" r="7.7"/><circle cx="2000.9" cy="511.1" r="7.7"/><circle cx="1857.7" cy="499.9" r="7.7"/><circle cx="1875.4" cy="504.1" r="7.7"/><circle cx="1880.1" cy="498.2" r="7.7"/><circle cx="1916.6" cy="506.4" r="7.7"/><circle cx="1926.0" cy="511.7" r="7.7"/><circle cx="1845.9" cy="514.7" r="7.7"/><circle cx="1861.2" cy="529.4" r="7.7"/><circle cx="1883.6" cy="533.5" r="7.7"/><circle cx="1898.9" cy="525.3" r="7.7"/><circle cx="1898.9" cy="545.3" r="7.7"/><circle cx="1605.0" cy="556.2" r="7.7"/><circle cx="1582.0" cy="571.5" r="7.7"/><circle cx="1593.2" cy="593.9" r="7.7"/><circle cx="1597.3" cy="620.4" r="7.7"/><circle cx="1606.8" cy="615.7" r="7.7"/><circle cx="1635.0" cy="612.8" r="7.7"/><circle cx="1631.5" cy="641.0" r="7.7"/><circle cx="1605.6" cy="669.9" r="7.7"/><circle cx="1612.7" cy="664.0" r="7.7"/><circle cx="1627.4" cy="714.7" r="7.7"/><circle cx="1686.9" cy="555.6" r="7.7"/><circle cx="1702.8" cy="562.7" r="7.7"/><circle cx="1695.1" cy="570.9" r="7.7"/><circle cx="1724.6" cy="560.3" r="7.7"/><circle cx="1740.5" cy="567.4" r="7.7"/><circle cx="1646.2" cy="575.0" r="7.7"/><circle cx="1661.5" cy="575.0" r="7.7"/><circle cx="1683.3" cy="582.7" r="7.7"/><circle cx="1714.0" cy="581.5" r="7.7"/><circle cx="1715.1" cy="589.8" r="7.7"/><circle cx="1722.2" cy="597.4" r="7.7"/><circle cx="1755.2" cy="582.7" r="7.7"/><circle cx="1778.2" cy="574.5" r="7.7"/><circle cx="1797.0" cy="563.9" r="7.7"/><circle cx="1797.0" cy="572.1" r="7.7"/><circle cx="1827.1" cy="555.6" r="7.7"/><circle cx="1830.6" cy="567.4" r="7.7"/><circle cx="1814.1" cy="576.8" r="7.7"/><circle cx="1823.5" cy="579.2" r="7.7"/><circle cx="1804.7" cy="591.0" r="7.7"/><circle cx="1835.3" cy="592.1" r="7.7"/><circle cx="1657.4" cy="597.4" r="7.7"/><circle cx="1699.2" cy="605.7" r="7.7"/><circle cx="1729.3" cy="613.3" r="7.7"/><circle cx="1744.0" cy="616.3" r="7.7"/><circle cx="1661.5" cy="635.7" r="7.7"/><circle cx="1676.2" cy="631.6" r="7.7"/><circle cx="1758.7" cy="632.2" r="7.7"/><circle cx="1767.0" cy="632.2" r="7.7"/><circle cx="1785.8" cy="628.1" r="7.7"/><circle cx="1801.2" cy="632.2" r="7.7"/><circle cx="1808.2" cy="632.2" r="7.7"/><circle cx="1710.4" cy="646.3" r="7.7"/><circle cx="1715.1" cy="658.1" r="7.7"/><circle cx="1718.7" cy="666.4" r="7.7"/><circle cx="1763.4" cy="665.2" r="7.7"/><circle cx="1768.2" cy="669.9" r="7.7"/><circle cx="1819.4" cy="661.7" r="7.7"/><circle cx="1672.7" cy="680.5" r="7.7"/><circle cx="1695.1" cy="714.7" r="7.7"/><circle cx="1740.5" cy="710.6" r="7.7"/><circle cx="1800.6" cy="702.9" r="7.7"/><circle cx="1872.4" cy="549.7" r="7.7"/><circle cx="1959.0" cy="552.1" r="7.7"/><circle cx="1959.0" cy="561.5" r="7.7"/><circle cx="1982.0" cy="556.2" r="7.7"/><circle cx="1857.1" cy="562.7" r="7.7"/><circle cx="1868.9" cy="567.4" r="7.7"/><circle cx="1853.6" cy="579.2" r="7.7"/><circle cx="1891.3" cy="579.2" r="7.7"/><circle cx="1951.9" cy="570.9" r="7.7"/><circle cx="1960.2" cy="574.5" r="7.7"/><circle cx="1972.0" cy="575.6" r="7.7"/><circle cx="1936.6" cy="586.2" r="7.7"/><circle cx="1947.8" cy="591.0" r="7.7"/><circle cx="1963.1" cy="594.5" r="7.7"/><circle cx="2016.2" cy="593.9" r="7.7"/><circle cx="1851.2" cy="622.8" r="7.7"/><circle cx="1861.2" cy="635.7" r="7.7"/><circle cx="1861.2" cy="644.0" r="7.7"/><circle cx="1917.8" cy="618.1" r="7.7"/><circle cx="1911.9" cy="627.5" r="7.7"/><circle cx="1917.8" cy="644.0" r="7.7"/><circle cx="1936.0" cy="633.4" r="7.7"/><circle cx="1857.7" cy="697.0" r="7.7"/><circle cx="1861.2" cy="707.6" r="7.7"/><circle cx="1012.9" cy="205.2" r="7.7"/><circle cx="1182.5" cy="314.7" r="7.7"/><circle cx="1204.8" cy="314.7" r="7.7"/><circle cx="1235.4" cy="330.2" r="7.7"/><circle cx="1208.6" cy="352.5" r="7.7"/><circle cx="1190.1" cy="390.7" r="7.7"/><circle cx="1239.2" cy="394.5" r="7.7"/><circle cx="1250.5" cy="480.7" r="7.7"/><circle cx="1778.4" cy="1234.3" r="7.7"/><circle cx="1110.9" cy="1235.7" r="7.7"/></g>
</g>
<!-- LINES -->
<g id="lines" fill="none" stroke-width="3.8" stroke-dasharray="18 13">
<line x1="610" y1="295" x2="1123" y2="466" stroke="#000"/>
<line x1="1233" y1="479.4" x2="700" y2="680" stroke="#f00"/>
<line x1="1402.8" y1="366" x2="1396.3" y2="786" stroke="#000"/>
<line x1="893.3" y1="969.8" x2="1168" y2="1075.8" stroke="#0a3ad2"/>
<line x1="1729.1" y1="1012.2" x2="1681.8" y2="1261" stroke="#0a3ad2"/>
<line x1="2009.5" y1="940" x2="1804.3" y2="1232.4" stroke="#000"/>
<line x1="1086.6" y1="1236.7" x2="850" y2="1283" stroke="#f00"/>
</g>
<!-- FACES -->
<g id="faces">
<g transform="translate(367,175)"><g clip-path="url(#c1)"><rect x="-10" y="-10" width="250" height="251" fill="#caa9a5"/>
<g filter="url(#b14)">
 <ellipse cx="115" cy="150" rx="95" ry="75" fill="#cdaaa6"/>
 <ellipse cx="42" cy="145" rx="32" ry="38" fill="#c89c98"/>
 <ellipse cx="188" cy="145" rx="30" ry="38" fill="#c89c98"/>
 <ellipse cx="112" cy="98" rx="30" ry="26" fill="#d4b6b2"/>
 <ellipse cx="115" cy="212" rx="70" ry="14" fill="#c09e9a"/>
</g>
<g filter="url(#b3)">
 <path d="M-10 -10H240V160C226 135 221 100 218 70C214 50 205 40 190 38C170 34 150 36 130 36C110 34 90 34 70 36C50 36 30 40 15 50C8 56 2 66 -10 84Z" fill="#3c2a29"/>
 <path d="M-10 60C4 68 10 84 12 100C8 98 4 98 -10 104Z" fill="#4a3433"/>
</g>
<g filter="url(#b2)" fill="none" stroke-linecap="round">
 <path d="M28 30C32 40 34 50 32 58" stroke="#3a2827" stroke-width="9"/>
 <path d="M50 30C54 42 56 52 54 60" stroke="#4a3432" stroke-width="8"/>
 <path d="M72 30C76 42 80 52 80 62" stroke="#342424" stroke-width="10"/>
 <path d="M92 30C98 44 104 58 106 70" stroke="#3a2828" stroke-width="11"/>
 <path d="M112 30C118 44 122 56 122 70" stroke="#2e2020" stroke-width="10"/>
 <path d="M134 30C138 42 140 52 138 62" stroke="#3e2c2a" stroke-width="9"/>
 <path d="M156 30C162 42 166 52 168 60" stroke="#342626" stroke-width="10"/>
 <path d="M180 30C186 42 190 52 192 60" stroke="#3a2a28" stroke-width="9"/>
 <path d="M200 30C206 44 208 54 208 62" stroke="#302222" stroke-width="8"/>
 <path d="M40 5C46 20 50 30 48 44" stroke="#8a6e6c" stroke-width="5"/>
 <path d="M62 8C68 22 70 34 66 48" stroke="#9a807e" stroke-width="4"/>
 <path d="M100 12C108 26 112 40 112 54" stroke="#8c7270" stroke-width="4"/>
 <path d="M142 6C148 22 150 34 148 46" stroke="#9c8280" stroke-width="4"/>
 <path d="M190 10C196 24 198 34 196 46" stroke="#8a6e6c" stroke-width="4"/>
 <path d="M20 20C24 30 26 40 24 50" stroke="#6e5452" stroke-width="3"/>
</g>
<g filter="url(#b3)">
 <ellipse cx="54" cy="81" rx="26" ry="11" fill="#b4a2a0"/>
 <ellipse cx="168" cy="79" rx="26" ry="11" fill="#b4a2a0"/>
 <path d="M27 79C40 64 68 64 82 78" stroke="#2a1a1a" stroke-width="5" fill="none"/>
 <path d="M141 77C156 62 184 62 198 78" stroke="#2a1a1a" stroke-width="5" fill="none"/>
 <path d="M32 90C46 96 66 96 80 90M146 88C160 94 180 94 194 88" stroke="#a89090" stroke-width="3" fill="none"/>
</g>
<g filter="url(#b1)">
 <circle cx="56" cy="80" r="12.5" fill="#120808"/>
 <circle cx="167" cy="78" r="12.5" fill="#120808"/>
 <circle cx="58" cy="76" r="2" fill="#e8e0e0"/>
 <circle cx="168" cy="74" r="2" fill="#e8e0e0"/>
</g>
<g filter="url(#b4)">
 <ellipse cx="114" cy="116" rx="22" ry="13" fill="#dcbcb4"/>
 <path d="M82 132C84 118 96 116 104 128M126 128C134 116 146 118 148 132" stroke="#9a7874" stroke-width="5" fill="none"/>
 <ellipse cx="97" cy="129" rx="8" ry="4" fill="#5e3c3a"/>
 <ellipse cx="129" cy="128" rx="8" ry="4" fill="#5e3c3a"/>
 <path d="M74 167C88 153 104 153 115 157C126 153 142 153 154 167C138 171 92 171 74 167Z" fill="#a07472"/>
 <path d="M78 168C92 184 138 186 152 168C138 172 92 172 78 168Z" fill="#ddb6b4"/>
</g>
<path d="M78 168C100 171 130 171 152 167" stroke="#6a4644" stroke-width="2.5" fill="none" filter="url(#b1)"/>
<g filter="url(#b3)">
 <path d="M0 150C12 190 50 222 115 224C170 224 205 200 222 160" stroke="#6a4a48" stroke-width="4" fill="none"/>
 <path d="M-10 182C10 196 26 214 34 241H-10Z" fill="#5c5a5e"/>
 <path d="M240 168C214 195 198 215 188 241H240Z" fill="#5a585c"/>
 <path d="M216 185L228 200" stroke="#d8d8d8" stroke-width="2"/>
</g></g></g>
<g transform="translate(502,552)"><g clip-path="url(#c2)"><rect x="-10" y="-10" width="252" height="250" fill="#97603f"/>
<g filter="url(#b14)">
 <ellipse cx="118" cy="8" rx="45" ry="20" fill="#c88c6e"/>
 <ellipse cx="30" cy="20" rx="35" ry="30" fill="#84553a"/>
 <ellipse cx="210" cy="35" rx="24" ry="50" fill="#683820"/>
 <ellipse cx="232" cy="80" rx="12" ry="45" fill="#b4946e"/>
 <ellipse cx="40" cy="110" rx="30" ry="35" fill="#ac6654"/>
 <ellipse cx="115" cy="115" rx="35" ry="30" fill="#8e5436"/>
 <ellipse cx="162" cy="102" rx="20" ry="16" fill="#aa7c5a"/>
 <ellipse cx="2" cy="120" rx="12" ry="90" fill="#6c402a"/>
 <ellipse cx="110" cy="172" rx="50" ry="32" fill="#7e452c"/>
 <ellipse cx="60" cy="200" rx="40" ry="30" fill="#8c5a40"/>
 <ellipse cx="0" cy="228" rx="16" ry="22" fill="#42200e"/>
 <ellipse cx="140" cy="225" rx="40" ry="14" fill="#a86c50"/>
</g>
<g filter="url(#b8)">
 <ellipse cx="52" cy="34" rx="24" ry="12" fill="#b28c6a"/>
 <ellipse cx="160" cy="38" rx="20" ry="10" fill="#b48470"/>
 <ellipse cx="52" cy="68" rx="26" ry="12" fill="#6c3a22"/>
 <ellipse cx="172" cy="74" rx="24" ry="13" fill="#60321c"/>
 <path d="M196 130C210 120 228 118 245 125V230C230 228 210 220 196 205C188 180 188 150 196 130Z" fill="#f3e2c0"/>
 <ellipse cx="218" cy="165" rx="14" ry="32" fill="#fff5da"/>
</g>
<g filter="url(#b6)">
 <ellipse cx="108" cy="170" rx="20" ry="8" fill="#d8a084" transform="rotate(20 108 170)"/>
</g></g></g>
<g transform="translate(768,736)"><g clip-path="url(#c3)"><rect x="-10" y="-10" width="251" height="250" fill="#e2c0bc"/>
<g filter="url(#b8)">
 <ellipse cx="130" cy="115" rx="90" ry="28" fill="#ecd2ce"/>
 <ellipse cx="40" cy="170" rx="35" ry="40" fill="#e8c6c2"/>
</g>
<g filter="url(#b1)">
 <path d="M-10 -10H241V20C215 24 200 28 190 32C170 38 150 44 130 52C115 60 105 66 95 76C80 90 60 98 40 104C25 108 10 115 -10 130Z" fill="#050505"/>
</g>
<g filter="url(#b3)">
 <path d="M150 62C170 50 200 42 241 38V62C210 64 180 66 150 64Z" fill="#3e2c28"/>
 <path d="M148 88C175 80 205 78 241 76V88C205 90 175 92 148 90Z" fill="#5a2a2a"/>
 <path d="M142 128C170 122 200 120 241 120V130C200 130 170 132 142 130Z" fill="#6a3030"/>
 <path d="M120 150C150 152 190 150 241 148V160C190 160 150 160 120 158Z" fill="#c89896"/>
 <path d="M60 118C90 112 120 108 150 106" stroke="#d8b4b0" stroke-width="3" fill="none"/>
 <path d="M70 140C100 134 130 130 160 128" stroke="#d4acaa" stroke-width="3" fill="none"/>
</g>
<g filter="url(#b6)">
 <path d="M32 240C50 205 80 180 115 164C125 162 133 164 138 170C125 188 108 210 98 240Z" fill="#48221e"/>
 <path d="M140 165C170 160 205 162 241 166V240H112C120 205 130 185 140 165Z" fill="#c88e86"/>
 <path d="M60 215C80 195 100 180 125 170" stroke="#7a3c30" stroke-width="8" fill="none"/>
 <ellipse cx="190" cy="195" rx="30" ry="10" fill="#a86a62"/>
 <ellipse cx="150" cy="185" rx="12" ry="14" fill="#e8b4ac"/>
</g>
<path d="M-10 205C10 220 20 226 30 240H-10Z" fill="#d8a8a0" filter="url(#b4)"/></g></g>
<g transform="translate(1281,791)"><g clip-path="url(#c4)"><rect x="-10" y="-10" width="249" height="249" fill="#e8cabb"/>
<g filter="url(#b14)">
 <ellipse cx="100" cy="25" rx="95" ry="35" fill="#f4dccd"/>
 <ellipse cx="30" cy="130" rx="30" ry="40" fill="#e6bcb0"/>
 <ellipse cx="170" cy="120" rx="28" ry="35" fill="#e4b8a8"/>
 <ellipse cx="110" cy="200" rx="60" ry="25" fill="#e8ccbc"/>
 <ellipse cx="30" cy="215" rx="40" ry="30" fill="#b4a090"/>
</g>
<g filter="url(#b6)">
 <path d="M186 -10H240V148H200C204 120 206 90 204 60C200 40 194 20 186 -10Z" fill="#6c5e54"/>
 <path d="M196 -10H240V60C225 50 210 30 196 -10Z" fill="#8e7e6c"/>
 <path d="M212 70H240V146H206Z" fill="#4c4a4e"/>
 <path d="M200 144C212 140 225 138 240 138V240H146C158 205 180 170 200 144Z" fill="#eceef6"/>
 <path d="M150 240C165 205 182 175 200 150" stroke="#c6c2c8" stroke-width="6" fill="none"/>
</g>
<g filter="url(#b3)">
 <path d="M0 52C30 42 60 42 88 52" stroke="#a68474" stroke-width="6" fill="none"/>
 <path d="M150 56C170 50 190 50 205 54" stroke="#a68474" stroke-width="5" fill="none"/>
 <ellipse cx="50" cy="80" rx="36" ry="10" fill="#c0aca4"/>
 <ellipse cx="172" cy="82" rx="28" ry="9" fill="#c4b0a8"/>
 <path d="M14 76C35 66 65 66 90 78" stroke="#343030" stroke-width="7" fill="none"/>
 <path d="M146 80C165 70 185 70 200 78" stroke="#403838" stroke-width="6" fill="none"/>
 <ellipse cx="56" cy="80" rx="10" ry="7" fill="#34444a"/>
 <ellipse cx="172" cy="82" rx="9" ry="6" fill="#3a4648"/>
 <ellipse cx="50" cy="94" rx="34" ry="6" fill="#b49890"/>
 <ellipse cx="172" cy="95" rx="26" ry="5" fill="#bc9e94"/>
</g>
<g filter="url(#b6)">
 <ellipse cx="112" cy="95" rx="12" ry="22" fill="#f0d0c2"/>
 <ellipse cx="124" cy="128" rx="18" ry="20" fill="#dcb2a0"/>
 <path d="M92 142C105 150 130 152 150 146" stroke="#a47060" stroke-width="6" fill="none"/>
 <path d="M142 100C148 115 150 128 146 140" stroke="#d0a290" stroke-width="6" fill="none"/>
 <ellipse cx="122" cy="156" rx="22" ry="6" fill="#b08070"/>
</g>
<g filter="url(#b3)">
 <path d="M62 170C90 164 130 162 160 166C140 188 90 190 62 170Z" fill="#d6a0a0"/>
 <path d="M62 170C95 172 130 170 160 166" stroke="#8e5e5a" stroke-width="3" fill="none"/>
 <path d="M80 174C95 187 135 187 150 174" stroke="#e2b4b0" stroke-width="6" fill="none"/>
</g>
<path d="M30 232C45 215 55 210 65 212" stroke="#8a6a5a" stroke-width="4" fill="none" filter="url(#b2)"/></g></g>
<g transform="translate(1612,782)"><g clip-path="url(#c5)"><rect x="-10" y="-10" width="251" height="249" fill="#c4906e"/>
<g filter="url(#b14)">
 <ellipse cx="100" cy="10" rx="130" ry="40" fill="#e0b28e"/>
 <ellipse cx="20" cy="25" rx="35" ry="30" fill="#eccdb0"/>
 <ellipse cx="35" cy="115" rx="40" ry="25" fill="#d0a282"/>
 <ellipse cx="108" cy="95" rx="16" ry="30" fill="#dcb89c"/>
 <ellipse cx="172" cy="110" rx="30" ry="30" fill="#a06850"/>
 <ellipse cx="60" cy="75" rx="45" ry="18" fill="#b88468"/>
 <ellipse cx="170" cy="72" rx="40" ry="18" fill="#a87058"/>
</g>
<g filter="url(#b4)">
 <path d="M206 -10H241V239H165C180 200 192 170 200 150C206 120 208 60 206 -10Z" fill="#2e2a22"/>
 <path d="M198 150C215 145 230 145 241 147V239H172Z" fill="#27302c"/>
</g>
<g filter="url(#b4)">
 <path d="M26 56C50 44 80 40 104 44" stroke="#5a3c28" stroke-width="12" fill="none"/>
 <path d="M136 44C160 38 185 38 208 44" stroke="#4e3422" stroke-width="12" fill="none"/>
 <ellipse cx="54" cy="79" rx="20" ry="7" fill="#3a2018"/>
 <ellipse cx="168" cy="77" rx="20" ry="7" fill="#3a2018"/>
</g>
<g filter="url(#b2)"><ellipse cx="58" cy="78" rx="6" ry="5" fill="#6a3c28"/><ellipse cx="166" cy="76" rx="6" ry="5" fill="#6a3c28"/></g>
<g filter="url(#b6)">
 <ellipse cx="100" cy="126" rx="26" ry="16" fill="#d2a48a"/>
 <ellipse cx="143" cy="118" rx="9" ry="6" fill="#5a3428"/>
</g>
<g filter="url(#b6)">
 <path d="M-10 165C40 150 100 128 145 122C175 124 195 150 200 165V239H-10Z" fill="#a8704f"/>
 <ellipse cx="165" cy="195" rx="35" ry="45" fill="#94603f"/>
 <ellipse cx="110" cy="120" rx="30" ry="14" fill="#caa088"/>
</g>
<g filter="url(#b4)" fill="none" stroke-linecap="round">
 <path d="M-10 172C40 158 95 140 140 128" stroke="#d6a88a" stroke-width="15"/>
 <path d="M-5 198C50 182 110 165 170 150" stroke="#c89272" stroke-width="17"/>
 <path d="M15 222C70 208 130 192 185 178" stroke="#b98062" stroke-width="15"/>
 <path d="M50 240C100 230 150 215 195 205" stroke="#a87054" stroke-width="12"/>
 <path d="M-10 186C45 170 100 154 150 140" stroke="#5e3624" stroke-width="4"/>
 <path d="M0 211C55 196 115 180 172 165" stroke="#5e3624" stroke-width="4"/>
 <path d="M30 234C85 221 140 206 190 193" stroke="#5e3624" stroke-width="3.5"/>
 <path d="M70 150C90 140 110 132 132 128" stroke="#5a3628" stroke-width="4"/>
</g>
<g filter="url(#b2)">
 <ellipse cx="100" cy="200" rx="10" ry="14" fill="#e6d2a2" transform="rotate(-20 100 200)"/>
 <ellipse cx="105" cy="202" rx="5" ry="10" fill="#b09064" transform="rotate(-20 105 202)"/>
</g></g></g>
<g transform="translate(1895,707)"><g clip-path="url(#c6)"><rect x="-10" y="-10" width="250" height="249" fill="#c49a8a"/>
<g filter="url(#b14)">
 <ellipse cx="115" cy="28" rx="90" ry="32" fill="#ccA696"/>
 <ellipse cx="5" cy="15" rx="28" ry="28" fill="#9a7058"/>
 <ellipse cx="5" cy="120" rx="18" ry="60" fill="#a87868"/>
 <ellipse cx="45" cy="125" rx="30" ry="40" fill="#cc9e8e"/>
 <ellipse cx="170" cy="125" rx="30" ry="40" fill="#cea696"/>
 <ellipse cx="110" cy="210" rx="70" ry="20" fill="#c4988a"/>
</g>
<g filter="url(#b4)">
 <path d="M210 -10H240V100C222 80 215 50 210 -10Z" fill="#3a3224"/>
 <path d="M240 85C222 100 215 120 212 140C200 170 190 195 172 239H240Z" fill="#1e2646"/>
</g>
<g filter="url(#b2)" stroke="#f4f4f4" fill="none">
 <path d="M215 130H240" stroke-width="8"/>
 <path d="M209 148H240" stroke-width="8"/>
 <path d="M198 182C210 184 220 186 240 190" stroke-width="8"/>
</g>
<g filter="url(#b6)">
 <path d="M8 70C30 62 65 61 92 67" stroke="#9a6c58" stroke-width="9" fill="none"/>
 <path d="M135 67C165 61 195 61 215 67" stroke="#9a6c58" stroke-width="9" fill="none"/>
</g>
<g filter="url(#b3)">
 <ellipse cx="55" cy="80" rx="32" ry="8" fill="#b0a0a0"/>
 <ellipse cx="168" cy="80" rx="30" ry="8" fill="#b0a0a0"/>
 <ellipse cx="52" cy="79" rx="10" ry="6" fill="#667080"/>
 <ellipse cx="168" cy="79" rx="10" ry="6" fill="#667080"/>
 <ellipse cx="55" cy="93" rx="34" ry="6" fill="#b08478"/>
 <ellipse cx="168" cy="93" rx="30" ry="6" fill="#b08478"/>
</g>
<g filter="url(#b1)"><circle cx="52" cy="77" r="1.8" fill="#fff"/><circle cx="167" cy="77" r="1.8" fill="#fff"/></g>
<g filter="url(#b6)">
 <path d="M100 80C98 100 92 115 84 135" stroke="#a0746a" stroke-width="6" fill="none"/>
 <path d="M142 80C146 100 150 115 154 135" stroke="#a0746a" stroke-width="6" fill="none"/>
 <ellipse cx="120" cy="130" rx="18" ry="16" fill="#d4a498"/>
 <path d="M84 140C100 152 140 152 156 140" stroke="#90604e" stroke-width="6" fill="none"/>
</g>
<g filter="url(#b3)">
 <path d="M70 172C100 166 140 166 160 170C140 186 95 188 70 172Z" fill="#d49890"/>
 <path d="M68 172C100 170 140 168 162 170" stroke="#946058" stroke-width="3" fill="none"/>
 <path d="M0 160C20 200 60 225 110 229C160 229 190 215 205 195" stroke="#84584a" stroke-width="3" fill="none"/>
</g></g></g>
<g transform="translate(619,1167)"><g clip-path="url(#c7)"><rect x="-10" y="-10" width="250" height="250" fill="#a78aa6"/>
<g filter="url(#b14)">
 <ellipse cx="45" cy="15" rx="70" ry="40" fill="#dcd6f4"/>
 <ellipse cx="190" cy="15" rx="60" ry="28" fill="#9a6a86"/>
 <ellipse cx="215" cy="70" rx="30" ry="45" fill="#6a3e56"/>
 <ellipse cx="172" cy="88" rx="50" ry="30" fill="#7a4658"/>
 <ellipse cx="100" cy="78" rx="24" ry="45" fill="#f2d6f0"/>
 <ellipse cx="38" cy="125" rx="38" ry="32" fill="#f2dcf4"/>
 <ellipse cx="75" cy="158" rx="35" ry="20" fill="#e6d0ea"/>
 <ellipse cx="172" cy="170" rx="66" ry="36" fill="#6a5c7e"/>
 <ellipse cx="205" cy="218" rx="35" ry="25" fill="#c6bee4"/>
 <ellipse cx="10" cy="210" rx="25" ry="38" fill="#eec6c6"/>
 <ellipse cx="95" cy="212" rx="42" ry="25" fill="#967890"/>
 <ellipse cx="192" cy="125" rx="42" ry="22" fill="#7c5a6c"/>
</g>
<g filter="url(#b6)">
 <ellipse cx="52" cy="80" rx="26" ry="10" fill="#4e2e4a"/>
 <path d="M52 68C64 54 78 42 94 30" stroke="#64365e" stroke-width="22" fill="none" stroke-linecap="round"/>
 <ellipse cx="180" cy="80" rx="42" ry="24" fill="#5e2a3c"/>
 <ellipse cx="176" cy="84" rx="26" ry="13" fill="#4e1a2c"/>
 <ellipse cx="157" cy="68" rx="10" ry="8" fill="#ecb4c4"/>
 <ellipse cx="112" cy="123" rx="32" ry="6" fill="#4e2a3a"/>
 <ellipse cx="94" cy="123" rx="8" ry="7" fill="#381e30"/>
 <ellipse cx="132" cy="122" rx="8" ry="6" fill="#44202e"/>
 <path d="M60 165C80 160 110 155 130 158" stroke="#8a6a8a" stroke-width="8" fill="none"/>
</g></g></g>
</g>
<!-- BOXES -->
<g id="boxes" fill="none" stroke-width="2.7">
<rect x="1124.2" y="444.2" width="45.8" height="47.2" stroke="#000"/>
<rect x="1231.6" y="454.8" width="45.8" height="45.6" stroke="#f00"/>
<rect x="1380.5" y="319.2" width="44.2" height="45.4" stroke="#000"/>
<rect x="1169" y="1052.9" width="44.7" height="45" stroke="#0a3ad2"/>
<rect x="1658.6" y="1262.3" width="44.3" height="46.3" stroke="#0a3ad2"/>
<rect x="1758.5" y="1209.3" width="44.5" height="45.3" stroke="#000"/>
<rect x="1087.9" y="1213.8" width="42.6" height="45.9" stroke="#f00"/>
</g>
<!-- LEGEND -->
<g id="legend">
<rect x="177.8" y="844.5" width="410.8" height="577.2" fill="#fff" stroke="#787373" stroke-width="6.8"/>
<circle cx="259.3" cy="885.1" r="6.3" fill="#0000ff"/>
<rect x="249.1" y="956.9" width="19.3" height="17.6" rx="3" fill="#ff0000"/>
<rect x="249.1" y="1037.7" width="19.3" height="17.6" rx="3" fill="#bfbf00"/>
<circle cx="259.3" cy="1127.4" r="8.6" fill="#000"/>
<polygon points="259.4,1197.3 265.6,1200.9 265.6,1208.1 259.4,1211.7 253.2,1208.1 253.2,1200.9" fill="#008000"/>
<circle cx="259.3" cy="1288.7" r="9.8" fill="#1bbfbf"/>
<polygon points="259.4,1365.3 265.6,1368.9 265.6,1376.1 259.4,1379.7 253.2,1376.1 253.2,1368.9" fill="#bf00bf"/>
<g class="lg">
<text transform="translate(350,903.1) scale(0.947,1)">Angry</text>
<text transform="translate(350.4,985) scale(0.947,1)">Disgust</text>
<text transform="translate(351.5,1064.9) scale(0.947,1)">Fear</text>
<text transform="translate(351.5,1144.6) scale(0.947,1)">Happy</text>
<text transform="translate(349.5,1224.9) scale(0.947,1)">Sad</text>
<text transform="translate(346.5,1307.8) scale(0.947,1)">Surprise</text>
<text transform="translate(350.5,1396.1) scale(0.947,1)">Neutral</text>
</g>
</g>
</svg>
</body></html>
